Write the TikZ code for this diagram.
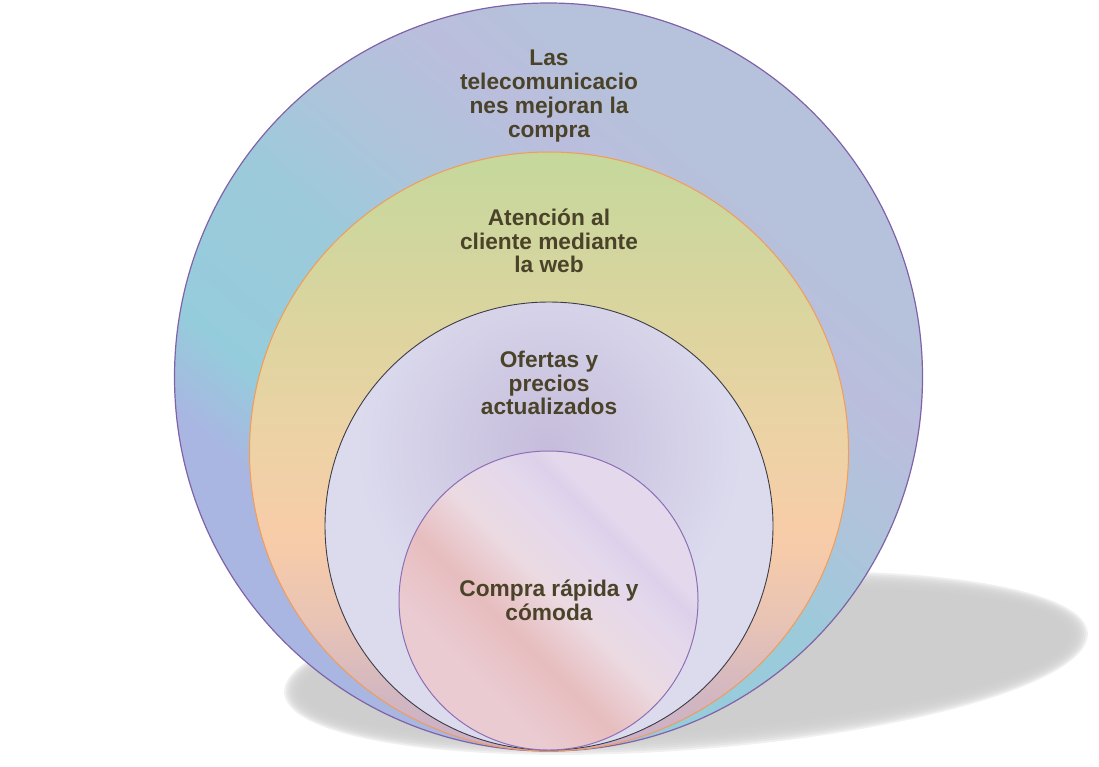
\documentclass[tikz,border=0pt]{standalone}
\usepackage{fontspec}
\setmainfont{Liberation Sans}

\definecolor{txtcol}{HTML}{4A4329}
\definecolor{shadowgray}{HTML}{CDCDCD}
\definecolor{ringA}{HTML}{A9B6E2}
\definecolor{ringB}{HTML}{95CCDB}
\definecolor{ringC}{HTML}{9CCADB}
\definecolor{ringD}{HTML}{AEC4DB}
\definecolor{ringE}{HTML}{BABEDC}
\definecolor{ringF}{HTML}{B6C1DB}
\definecolor{midA}{HTML}{C9AFC9}
\definecolor{midB}{HTML}{D1B6C2}
\definecolor{midC}{HTML}{E9C4B5}
\definecolor{midD}{HTML}{F8CCA8}
\definecolor{midE}{HTML}{EED2A6}
\definecolor{midF}{HTML}{E0D4A0}
\definecolor{midG}{HTML}{D2D69E}
\definecolor{midH}{HTML}{C5D89C}
\definecolor{lav}{HTML}{DCDBEE}
\definecolor{lavdark}{HTML}{C5BCDB}
\definecolor{pinkA}{HTML}{EACBD1}
\definecolor{pinkB}{HTML}{E7BDBF}
\definecolor{pinkC}{HTML}{EBDAE1}
\definecolor{pinkD}{HTML}{E4D8EC}
\definecolor{pinkE}{HTML}{DDD0EA}
\definecolor{pinkF}{HTML}{E3D8EC}
\definecolor{purpleline}{HTML}{7F62A8}
\definecolor{orangeline}{HTML}{F49B55}
\definecolor{darkline}{HTML}{3C3C46}
\definecolor{violetline}{HTML}{8D6FB5}

\pgfdeclarehorizontalshading{outerring}{100bp}{color(0bp)=(ringA); color(32.2bp)=(ringA);
  color(37.5bp)=(ringB); color(48.2bp)=(ringC); color(55.3bp)=(ringD); color(62.4bp)=(ringE);
  color(67.8bp)=(ringF); color(100bp)=(ringF)}
\pgfdeclareverticalshading{midring}{100bp}{color(0bp)=(midA); color(25bp)=(midA);
  color(29.3bp)=(midB); color(36bp)=(midC); color(42.7bp)=(midD); color(50.2bp)=(midE);
  color(58.5bp)=(midF); color(66.8bp)=(midG); color(75bp)=(midH); color(100bp)=(midH)}
\pgfdeclarehorizontalshading{innerdisc}{100bp}{color(0bp)=(pinkA); color(32.3bp)=(pinkA);
  color(42.2bp)=(pinkB); color(51.5bp)=(pinkC); color(60.6bp)=(pinkD); color(65.2bp)=(pinkE);
  color(67.7bp)=(pinkF); color(100bp)=(pinkF)}

\begin{document}
\begin{tikzpicture}[x=1pt, y=-1pt,
  label text/.style={text=txtcol, font=\bfseries\fontsize{22.7}{23.7}\selectfont, align=center}]
  \useasboundingbox (0,0) rectangle (1099,766);
  \foreach \k in {0,...,9}
    \fill[shadowgray, opacity=0.3, rotate around={4.3:(686,663)}]
      (686,663) ellipse [x radius=403-2*\k, y radius=87-2*\k];
  \shade[shading=outerring, shading angle=50] (548.5,377) circle [radius=374pt];
  \draw[purpleline, line width=1.2pt] (548.5,377) circle [radius=374pt];
  \shade[shading=midring] (549,451.5) circle [radius=299.5pt];
  \draw[orangeline, line width=1pt] (549,451.5) circle [radius=299.5pt];
  \begin{scope}
    \clip (549,526) circle [radius=224pt];
    \fill[lav] (549,526) circle [radius=224pt];
    \shade[inner color=lavdark, outer color=lav] (549,448) circle [radius=195pt];
  \end{scope}
  \draw[darkline, line width=0.9pt] (549,526) circle [radius=224pt];
  \shade[shading=innerdisc, shading angle=45] (548.5,600.5) circle [radius=149.5pt];
  \draw[violetline, line width=1pt] (548.5,600.5) circle [radius=149.5pt];

  \node[label text] (las) at (549,96) {Las\\telecomunicacio\\nes mejoran la\\compra};
  \node[label text] (atencion) at (549,241) {Atención al\\cliente mediante\\la web};
  \node[label text] (ofertas) at (549,383) {Ofertas y\\precios\\actualizados};
  \node[label text] (compra) at (549,600) {Compra rápida y\\cómoda};
\end{tikzpicture}
\end{document}
